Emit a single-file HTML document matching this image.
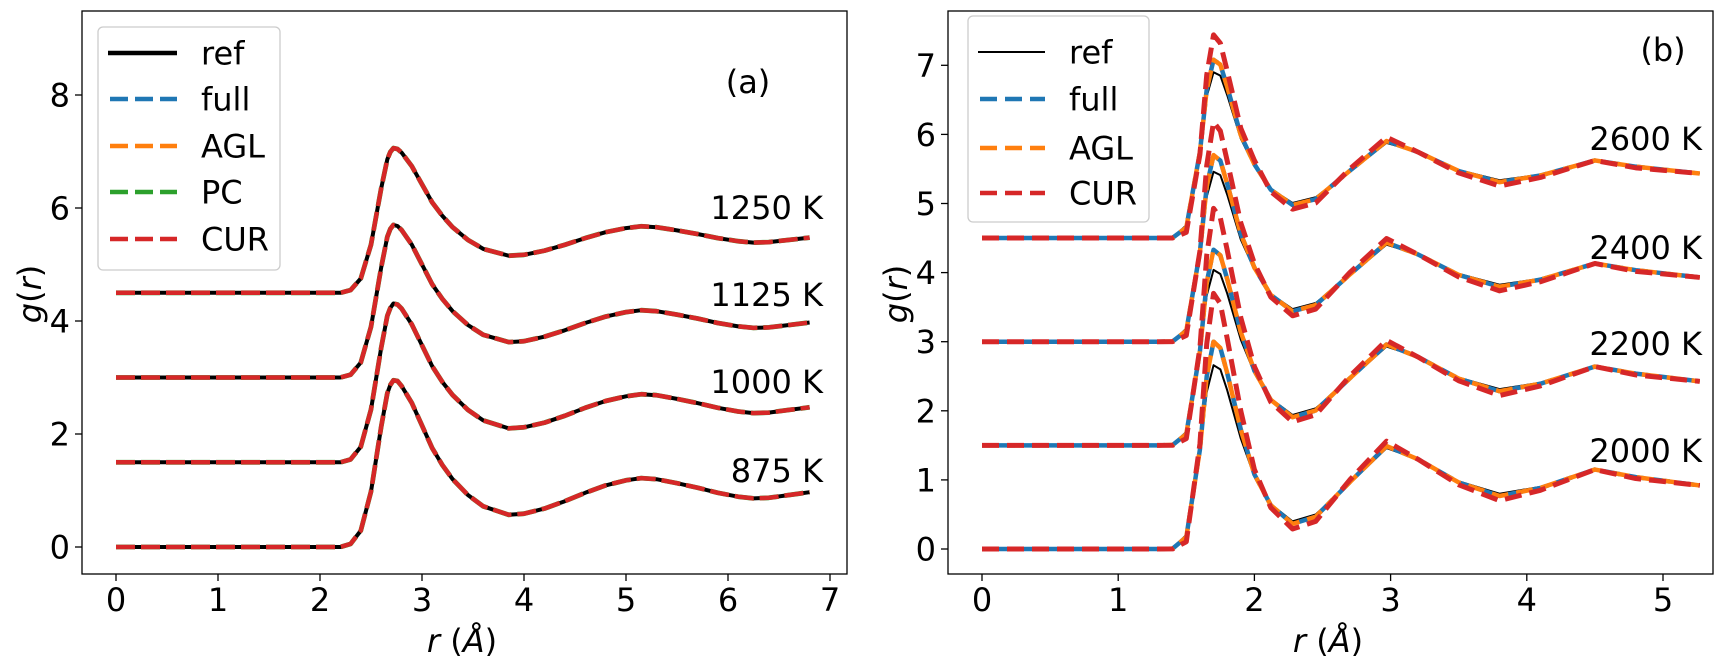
<!DOCTYPE html>
<html><head><meta charset="utf-8"><style>
html,body{margin:0;padding:0;background:#fff}
svg{display:block}
text{font-family:"DejaVu Sans","Liberation Sans",sans-serif;fill:#000;font-size:32px}
.n{vector-effect:non-scaling-stroke;fill:none;stroke-linejoin:round}
</style></head><body>
<svg width="1725" height="670" xmlns="http://www.w3.org/2000/svg">
<defs>
<clipPath id="ca"><rect x="82" y="11" width="765" height="563"/></clipPath>
<clipPath id="cb"><rect x="948" y="11" width="765" height="563"/></clipPath>
<path id="a1" d="M116,547 L340.4,547 350.6,543.9 360.8,530.6 371,491.6 381.2,426.7 387.3,393.3 390.3,385 393.4,380.3 397.5,381 401.6,386 411.8,402.9 422,425.5 432.2,448.1 442.4,465.1 452.6,479.2 467.9,495 483.2,506.3 508.7,514.8 524,513.7 544.4,508.6 564.8,501.2 585.2,492.8 605.6,485.4 626,480.3 641.3,478.1 656.6,479.2 677,483.2 697.4,487.7 717.8,492.8 738.2,496.7 753.5,498.4 768.8,497.8 789.2,495 809.6,492.2"/>
<path id="a2" d="M116,462.3 L340.4,462.3 350.6,459.4 360.8,446.7 371,409.5 381.2,347.7 387.3,315.9 390.3,308 393.4,303.5 397.5,304.5 401.6,308.6 411.8,324.4 422,345.3 432.2,366.2 442.4,382 452.6,395 467.9,409.9 483.2,420.4 508.7,428.4 524,427.3 544.4,422.7 564.8,415.8 585.2,407.8 605.6,401 626,396.3 641.3,394.2 656.6,395.2 677,398.9 697.4,403.1 717.8,407.8 738.2,411.5 753.5,413.1 768.8,412.6 789.2,409.9 809.6,407.3"/>
<path id="a3" d="M116,377.5 L340.4,377.5 350.6,374.7 360.8,362.5 371,326.8 381.2,267.4 387.3,236.9 390.3,229 393.4,224.9 397.5,226 401.6,230 411.8,244.7 422,264.5 432.2,284.3 442.4,299 452.6,311.2 467.9,325 483.2,334.8 508.7,342.1 524,341.2 544.4,336.7 564.8,330.3 585.2,323 605.6,316.6 626,312.1 641.3,310.2 656.6,311.2 677,314.6 697.4,318.5 717.8,323 738.2,326.4 753.5,327.9 768.8,327.4 789.2,325 809.6,322.5"/>
<path id="a4" d="M116,292.8 L340.4,292.8 350.6,290.1 360.8,278.5 371,244.7 381.2,188.3 387.3,159.4 390.3,152 393.4,148.1 397.5,149 401.6,152.6 411.8,166.2 422,184.3 432.2,202.4 442.4,215.9 452.6,227.2 467.9,239.9 483.2,248.9 508.7,255.7 524,254.8 544.4,250.7 564.8,244.8 585.2,238.1 605.6,232.2 626,228.1 641.3,226.3 656.6,227.2 677,230.4 697.4,234 717.8,238.1 738.2,241.2 753.5,242.6 768.8,242.1 789.2,239.9 809.6,237.6"/>
</defs>

<!-- Panel (a) -->
<g clip-path="url(#ca)" fill="none" stroke-linejoin="round">
 <g stroke="#000" stroke-width="4"><use href="#a1"/><use href="#a2"/><use href="#a3"/><use href="#a4"/></g>
 <g stroke="#2ca02c" stroke-width="4.8" stroke-dasharray="19 6"><use href="#a1"/><use href="#a2"/><use href="#a3"/><use href="#a4"/></g>
 <g stroke="#d62728" stroke-width="4.5" stroke-dasharray="19 6"><use href="#a1"/><use href="#a2"/><use href="#a3"/><use href="#a4"/></g>
</g>
<rect x="82" y="11" width="765" height="563" fill="none" stroke="#000" stroke-width="1.3"/>
<g stroke="#000" stroke-width="1.3">
<line x1="116" y1="574" x2="116" y2="581"/><line x1="218" y1="574" x2="218" y2="581"/><line x1="320" y1="574" x2="320" y2="581"/><line x1="422" y1="574" x2="422" y2="581"/><line x1="524" y1="574" x2="524" y2="581"/><line x1="626" y1="574" x2="626" y2="581"/><line x1="728" y1="574" x2="728" y2="581"/><line x1="830" y1="574" x2="830" y2="581"/>
<line x1="75" y1="547" x2="82" y2="547"/><line x1="75" y1="434" x2="82" y2="434"/><line x1="75" y1="321" x2="82" y2="321"/><line x1="75" y1="208" x2="82" y2="208"/><line x1="75" y1="95" x2="82" y2="95"/>
</g>
<g text-anchor="middle">
<text x="116" y="611">0</text><text x="218" y="611">1</text><text x="320" y="611">2</text><text x="422" y="611">3</text><text x="524" y="611">4</text><text x="626" y="611">5</text><text x="728" y="611">6</text><text x="830" y="611">7</text>
</g>
<g text-anchor="end">
<text x="70" y="558.5">0</text><text x="70" y="445.5">2</text><text x="70" y="332.5">4</text><text x="70" y="219.5">6</text><text x="70" y="106.5">8</text>
</g>
<text x="462" y="652" text-anchor="middle"><tspan font-style="italic">r</tspan> (<tspan font-style="italic">Å</tspan>)</text>
<text transform="translate(41,294) rotate(-90)" text-anchor="middle"><tspan font-style="italic">g</tspan>(<tspan font-style="italic">r</tspan>)</text>
<text x="748" y="93" text-anchor="middle">(a)</text>
<g text-anchor="end"><text x="823" y="219">1250 K</text><text x="823" y="306">1125 K</text><text x="823" y="393">1000 K</text><text x="823" y="482">875 K</text></g>
<rect x="98" y="27" width="182" height="243" rx="5" fill="#fff" fill-opacity="0.8" stroke="#ccc" stroke-width="1.3"/>
<line x1="108" y1="53" x2="177" y2="53" stroke="#000" stroke-width="4.5"/><text x="201" y="64.5">ref</text>
<line x1="110" y1="99" x2="177" y2="99" stroke="#1f77b4" stroke-width="4.5" stroke-dasharray="18 7"/><text x="201" y="110.5">full</text>
<line x1="110" y1="146" x2="177" y2="146" stroke="#ff7f0e" stroke-width="4.5" stroke-dasharray="18 7"/><text x="201" y="157.5">AGL</text>
<line x1="110" y1="192" x2="177" y2="192" stroke="#2ca02c" stroke-width="4.5" stroke-dasharray="18 7"/><text x="201" y="203.5">PC</text>
<line x1="110" y1="239" x2="177" y2="239" stroke="#d62728" stroke-width="4.5" stroke-dasharray="18 7"/><text x="201" y="250.5">CUR</text>

<!-- Panel (b) -->
<g clip-path="url(#cb)">
<g transform="matrix(136.2 0 0 -69.1 982 549)">
 <g>
  <path class="n" stroke="#000" stroke-width="2" d="M0,0 L1.3,0 1.4,.008 1.5,.205 1.6,1.40 1.65,2.27 1.7,2.66 1.75,2.6 1.8,2.3 1.9,1.6 2.0,1.05 2.12,.65 2.28,.40 2.45,.5 2.7,.95 2.97,1.46 3.2,1.3 3.5,.98 3.8,.8 4.1,.9 4.5,1.15 4.8,1.05 5.27,.92"/>
  <path class="n" stroke="#1f77b4" stroke-width="4.5" stroke-dasharray="17 8" stroke-dashoffset="9" d="M0,0 L1.3,0 1.4,.006 1.5,.172 1.6,1.44 1.65,2.50 1.7,3.00 1.75,2.91 1.8,2.55 1.9,1.73 2.0,1.08 2.12,.634 2.28,.364 2.45,.467 2.7,.967 2.97,1.49 3.2,1.3 3.5,.963 3.8,.767 4.1,.883 4.5,1.15 4.8,1.04 5.27,.92"/>
  <path class="n" stroke="#ff7f0e" stroke-width="4.5" stroke-dasharray="17 8" d="M0,0 L1.3,0 1.4,.006 1.5,.172 1.6,1.44 1.65,2.50 1.7,3.00 1.75,2.91 1.8,2.55 1.9,1.73 2.0,1.08 2.12,.634 2.28,.364 2.45,.467 2.7,.967 2.97,1.49 3.2,1.3 3.5,.963 3.8,.767 4.1,.883 4.5,1.15 4.8,1.04 5.27,.92"/>
 </g>
 <g transform="translate(0,1.5)">
  <path class="n" stroke="#000" stroke-width="2" d="M0,0 L1.3,0 1.4,.008 1.5,.196 1.6,1.34 1.65,2.17 1.7,2.54 1.75,2.48 1.8,2.20 1.9,1.53 2.0,1.05 2.12,.675 2.28,.44 2.45,.535 2.7,.953 2.97,1.43 3.2,1.28 3.5,.98 3.8,.814 4.1,.907 4.5,1.14 4.8,1.047 5.27,.926"/>
  <path class="n" stroke="#1f77b4" stroke-width="4.5" stroke-dasharray="17 8" stroke-dashoffset="9" d="M0,0 L1.3,0 1.4,.006 1.5,.163 1.6,1.36 1.65,2.36 1.7,2.83 1.75,2.75 1.8,2.41 1.9,1.64 2.0,1.08 2.12,.659 2.28,.407 2.45,.504 2.7,.969 2.97,1.46 3.2,1.28 3.5,.965 3.8,.783 4.1,.892 4.5,1.14 4.8,1.038 5.27,.926"/>
  <path class="n" stroke="#ff7f0e" stroke-width="4.5" stroke-dasharray="17 8" d="M0,0 L1.3,0 1.4,.006 1.5,.163 1.6,1.36 1.65,2.36 1.7,2.83 1.75,2.75 1.8,2.41 1.9,1.64 2.0,1.08 2.12,.659 2.28,.407 2.45,.504 2.7,.969 2.97,1.46 3.2,1.28 3.5,.965 3.8,.783 4.1,.892 4.5,1.14 4.8,1.038 5.27,.926"/>
 </g>
 <g transform="translate(0,3)">
  <path class="n" stroke="#000" stroke-width="2" d="M0,0 L1.3,0 1.4,.007 1.5,.19 1.6,1.30 1.65,2.10 1.7,2.46 1.75,2.41 1.8,2.13 1.9,1.48 2.0,1.044 2.12,.692 2.28,.472 2.45,.56 2.7,.956 2.97,1.405 3.2,1.264 3.5,.982 3.8,.824 4.1,.912 4.5,1.132 4.8,1.044 5.27,.93"/>
  <path class="n" stroke="#1f77b4" stroke-width="4.5" stroke-dasharray="17 8" stroke-dashoffset="9" d="M0,0 L1.3,0 1.4,.005 1.5,.157 1.6,1.30 1.65,2.25 1.7,2.70 1.75,2.62 1.8,2.29 1.9,1.56 2.0,1.073 2.12,.677 2.28,.44 2.45,.531 2.7,.971 2.97,1.434 3.2,1.264 3.5,.967 3.8,.795 4.1,.898 4.5,1.132 4.8,1.035 5.27,.93"/>
  <path class="n" stroke="#ff7f0e" stroke-width="4.5" stroke-dasharray="17 8" d="M0,0 L1.3,0 1.4,.005 1.5,.157 1.6,1.30 1.65,2.25 1.7,2.70 1.75,2.62 1.8,2.29 1.9,1.56 2.0,1.073 2.12,.677 2.28,.44 2.45,.531 2.7,.971 2.97,1.434 3.2,1.264 3.5,.967 3.8,.795 4.1,.898 4.5,1.132 4.8,1.035 5.27,.93"/>
 </g>
 <g transform="translate(0,4.5)">
  <path class="n" stroke="#000" stroke-width="2" d="M0,0 L1.3,0 1.4,.007 1.5,.185 1.6,1.26 1.65,2.05 1.7,2.40 1.75,2.35 1.8,2.07 1.9,1.44 2.0,1.041 2.12,.713 2.28,.508 2.45,.59 2.7,.959 2.97,1.377 3.2,1.246 3.5,.984 3.8,.836 4.1,.918 4.5,1.123 4.8,1.041 5.27,.934"/>
  <path class="n" stroke="#1f77b4" stroke-width="4.5" stroke-dasharray="17 8" stroke-dashoffset="9" d="M0,0 L1.3,0 1.4,.005 1.5,.151 1.6,1.243 1.65,2.15 1.7,2.58 1.75,2.51 1.8,2.19 1.9,1.49 2.0,1.068 2.12,.70 2.28,.478 2.45,.563 2.7,.973 2.97,1.404 3.2,1.246 3.5,.97 3.8,.809 4.1,.905 4.5,1.123 4.8,1.033 5.27,.934"/>
  <path class="n" stroke="#ff7f0e" stroke-width="4.5" stroke-dasharray="17 8" d="M0,0 L1.3,0 1.4,.005 1.5,.151 1.6,1.243 1.65,2.15 1.7,2.58 1.75,2.51 1.8,2.19 1.9,1.49 2.0,1.068 2.12,.70 2.28,.478 2.45,.563 2.7,.973 2.97,1.404 3.2,1.246 3.5,.97 3.8,.809 4.1,.905 4.5,1.123 4.8,1.033 5.27,.934"/>
 </g>
 <path class="n" stroke="#d62728" stroke-width="5" stroke-dasharray="17 8" d="M0,0 L1.3,0 1.4,.001 1.5,.105 1.6,1.52 1.65,2.97 1.7,3.7 1.75,3.55 1.8,3.05 1.9,2.0 2.0,1.15 2.12,.6 2.28,.29 2.45,.4 2.7,1.0 2.97,1.56 3.2,1.3 3.5,.93 3.8,.7 4.1,.85 4.5,1.15 4.8,1.02 5.27,.92"/>
 <path class="n" stroke="#d62728" stroke-width="5" stroke-dasharray="17 8" transform="translate(0,1.5)" d="M0,0 L1.3,0 1.4,.001 1.5,.097 1.6,1.41 1.65,2.75 1.7,3.43 1.75,3.29 1.8,2.83 1.9,1.85 2.0,1.14 2.12,.628 2.28,.34 2.45,.442 2.7,1.0 2.97,1.52 3.2,1.28 3.5,.935 3.8,.721 4.1,.86 4.5,1.14 4.8,1.019 5.27,.926"/>
 <path class="n" stroke="#d62728" stroke-width="5" stroke-dasharray="17 8" transform="translate(0,3)" d="M0,0 L1.3,0 1.4,.001 1.5,.09 1.6,1.31 1.65,2.55 1.7,3.18 1.75,3.05 1.8,2.62 1.9,1.72 2.0,1.132 2.12,.648 2.28,.375 2.45,.472 2.7,1.0 2.97,1.493 3.2,1.264 3.5,.938 3.8,.736 4.1,.868 4.5,1.132 4.8,1.018 5.27,.93"/>
 <path class="n" stroke="#d62728" stroke-width="5" stroke-dasharray="17 8" transform="translate(0,4.5)" d="M0,0 L1.3,0 1.4,.001 1.5,.083 1.6,1.21 1.65,2.36 1.7,2.94 1.75,2.82 1.8,2.42 1.9,1.59 2.0,1.123 2.12,.672 2.28,.418 2.45,.508 2.7,1.0 2.97,1.459 3.2,1.246 3.5,.943 3.8,.754 4.1,.877 4.5,1.123 4.8,1.016 5.27,.934"/>
</g>
</g>
<rect x="948" y="11" width="765" height="563" fill="none" stroke="#000" stroke-width="1.3"/>
<g stroke="#000" stroke-width="1.3">
<line x1="982" y1="574" x2="982" y2="581"/><line x1="1118.2" y1="574" x2="1118.2" y2="581"/><line x1="1254.4" y1="574" x2="1254.4" y2="581"/><line x1="1390.6" y1="574" x2="1390.6" y2="581"/><line x1="1526.8" y1="574" x2="1526.8" y2="581"/><line x1="1663" y1="574" x2="1663" y2="581"/>
<line x1="941" y1="549" x2="948" y2="549"/><line x1="941" y1="479.9" x2="948" y2="479.9"/><line x1="941" y1="410.8" x2="948" y2="410.8"/><line x1="941" y1="341.7" x2="948" y2="341.7"/><line x1="941" y1="272.6" x2="948" y2="272.6"/><line x1="941" y1="203.5" x2="948" y2="203.5"/><line x1="941" y1="134.4" x2="948" y2="134.4"/><line x1="941" y1="65.3" x2="948" y2="65.3"/>
</g>
<g text-anchor="middle">
<text x="982" y="611">0</text><text x="1118.2" y="611">1</text><text x="1254.4" y="611">2</text><text x="1390.6" y="611">3</text><text x="1526.8" y="611">4</text><text x="1663" y="611">5</text>
</g>
<g text-anchor="end">
<text x="936" y="560.5">0</text><text x="936" y="491.4">1</text><text x="936" y="422.3">2</text><text x="936" y="353.2">3</text><text x="936" y="284.1">4</text><text x="936" y="215">5</text><text x="936" y="145.9">6</text><text x="936" y="76.8">7</text>
</g>
<text x="1328" y="652" text-anchor="middle"><tspan font-style="italic">r</tspan> (<tspan font-style="italic">Å</tspan>)</text>
<text transform="translate(907,294) rotate(-90)" text-anchor="middle"><tspan font-style="italic">g</tspan>(<tspan font-style="italic">r</tspan>)</text>
<text x="1663" y="61" text-anchor="middle">(b)</text>
<g text-anchor="end"><text x="1702" y="150">2600 K</text><text x="1702" y="259">2400 K</text><text x="1702" y="355">2200 K</text><text x="1702" y="462">2000 K</text></g>
<rect x="968" y="16" width="181" height="206" rx="5" fill="#fff" fill-opacity="0.8" stroke="#ccc" stroke-width="1.3"/>
<line x1="978" y1="52" x2="1045" y2="52" stroke="#000" stroke-width="2"/><text x="1069" y="63.5">ref</text>
<line x1="980" y1="99" x2="1045" y2="99" stroke="#1f77b4" stroke-width="4.5" stroke-dasharray="17 8"/><text x="1069" y="110.5">full</text>
<line x1="980" y1="148" x2="1045" y2="148" stroke="#ff7f0e" stroke-width="4.5" stroke-dasharray="17 8"/><text x="1069" y="159.5">AGL</text>
<line x1="980" y1="193" x2="1045" y2="193" stroke="#d62728" stroke-width="4.5" stroke-dasharray="17 8"/><text x="1069" y="204.5">CUR</text>
</svg>
</body></html>
